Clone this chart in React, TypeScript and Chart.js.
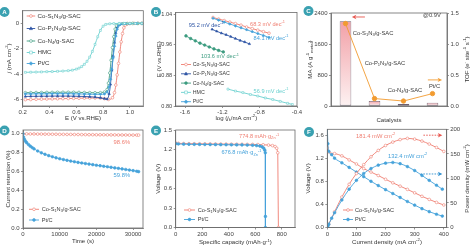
import React, { useEffect, useRef } from "react";
import { Chart, registerables } from "chart.js";

Chart.register(...registerables);

const FONT = '"Liberation Sans", Arial, Helvetica, sans-serif';

const RED = "#ef7d70";
const NAVY = "#2d54a4";
const GREEN = "#3d9c80";
const CYAN = "#69d0cf";
const SKY = "#45a2da";
const ORANGE = "#f29b30";
const BADGE = "#3aa1b1";
const AXIS = "#6a6a6a";
const INK = "#333333";

const NAME_S1N3 = "Co-S_{1}N_{3}/g-SAC";
const NAME_P1N3 = "Co-P_{1}N_{3}/g-SAC";
const NAME_N4 = "Co-N_{4}/g-SAC";
const NAME_HMC = "HMC";
const NAME_PT = "Pt/C";

// ---------- A: ORR polarization curves ----------
const lsvPotS1N3 = [0.22, 0.26, 0.3, 0.34, 0.38, 0.42, 0.46, 0.5, 0.54, 0.58, 0.62, 0.66, 0.7, 0.74, 0.78, 0.81, 0.84, 0.87, 0.885, 0.895, 0.905, 0.915, 0.925, 0.935, 0.945, 0.955, 0.965, 0.98, 1.0, 1.03, 1.06, 1.09];
const lsvCurS1N3 = [-6.0, -5.99, -5.97, -5.96, -5.95, -5.94, -5.93, -5.92, -5.91, -5.9, -5.89, -5.88, -5.87, -5.87, -5.88, -5.92, -5.98, -5.85, -5.45, -4.85, -4.05, -3.15, -2.25, -1.45, -0.8, -0.35, -0.13, -0.04, -0.01, 0, 0, 0];
const lsvPotP1N3 = [0.22, 0.26, 0.3, 0.34, 0.38, 0.42, 0.46, 0.5, 0.54, 0.58, 0.62, 0.66, 0.7, 0.74, 0.78, 0.81, 0.83, 0.845, 0.855, 0.865, 0.875, 0.885, 0.895, 0.905, 0.92, 0.94, 0.97, 1.0, 1.04, 1.09];
const lsvCurP1N3 = [-5.75, -5.74, -5.74, -5.73, -5.73, -5.72, -5.72, -5.72, -5.72, -5.73, -5.74, -5.75, -5.77, -5.8, -5.85, -5.92, -5.95, -5.55, -4.8, -3.7, -2.55, -1.5, -0.75, -0.3, -0.1, -0.04, -0.02, -0.01, 0, 0];
const lsvPotN4 = [0.22, 0.26, 0.3, 0.34, 0.38, 0.42, 0.46, 0.5, 0.54, 0.58, 0.62, 0.66, 0.7, 0.74, 0.78, 0.81, 0.83, 0.84, 0.85, 0.86, 0.87, 0.88, 0.89, 0.9, 0.92, 0.95, 0.98, 1.02, 1.06, 1.09];
const lsvCurN4 = [-5.45, -5.45, -5.44, -5.44, -5.43, -5.43, -5.42, -5.42, -5.42, -5.42, -5.43, -5.44, -5.45, -5.46, -5.45, -5.4, -5.2, -4.7, -3.9, -2.9, -1.9, -1.05, -0.45, -0.18, -0.06, -0.02, -0.01, 0, 0, 0];
const lsvPotHMC = [0.22, 0.26, 0.3, 0.34, 0.38, 0.42, 0.46, 0.5, 0.54, 0.57, 0.6, 0.62, 0.64, 0.66, 0.68, 0.7, 0.72, 0.74, 0.76, 0.78, 0.8, 0.82, 0.85, 0.88, 0.92, 0.96, 1.0, 1.04, 1.09];
const lsvCurHMC = [-3.85, -3.84, -3.83, -3.82, -3.8, -3.79, -3.77, -3.75, -3.72, -3.68, -3.6, -3.52, -3.4, -3.22, -2.98, -2.65, -2.2, -1.65, -1.05, -0.55, -0.22, -0.08, -0.03, -0.01, 0, 0, 0, 0, 0];
const lsvPotPt = [0.22, 0.26, 0.3, 0.34, 0.38, 0.42, 0.46, 0.5, 0.54, 0.58, 0.62, 0.66, 0.7, 0.74, 0.78, 0.81, 0.83, 0.845, 0.855, 0.865, 0.875, 0.885, 0.895, 0.905, 0.915, 0.93, 0.96, 1.0, 1.05, 1.09];
const lsvCurPt = [-5.55, -5.55, -5.54, -5.54, -5.54, -5.53, -5.53, -5.53, -5.53, -5.54, -5.55, -5.56, -5.57, -5.58, -5.58, -5.55, -5.4, -5.0, -4.4, -3.6, -2.7, -1.8, -1.0, -0.45, -0.18, -0.06, -0.02, -0.01, 0, 0];
const lsvTicksX = [0.2, 0.4, 0.6, 0.8, 1.0];
const lsvTicksY = [-6, -4, -2, 0];

// ---------- B: Tafel plots ----------
const tafLogS1N3 = [-1.3, -1.24, -1.18, -1.12, -1.06, -1.0, -0.94, -0.88, -0.82, -0.76, -0.7];
const tafES1N3 = [1.031, 1.027, 1.023, 1.019, 1.015, 1.011, 1.006, 1.002, 0.998, 0.994, 0.99];
const tafLogP1N3 = [-1.31, -1.26, -1.21, -1.16, -1.11, -1.06, -1.01, -0.96, -0.91];
const tafEP1N3 = [1.0, 0.995, 0.99, 0.986, 0.981, 0.976, 0.971, 0.967, 0.962];
const tafLogN4 = [-1.59, -1.54, -1.49, -1.44, -1.39, -1.34, -1.29, -1.24, -1.19];
const tafEN4 = [0.983, 0.976, 0.97, 0.964, 0.959, 0.954, 0.949, 0.945, 0.941];
const tafLogHMC = [-1.14, -1.06, -0.98, -0.9, -0.82, -0.74, -0.66, -0.58, -0.5, -0.45];
const tafEHMC = [0.844, 0.839, 0.835, 0.83, 0.826, 0.821, 0.817, 0.812, 0.807, 0.804];
const tafLogPt = [-1.3, -1.24, -1.18, -1.12, -1.06, -1.0, -0.94, -0.88, -0.82, -0.76, -0.7];
const tafEPt = [1.029, 1.024, 1.019, 1.014, 1.009, 1.004, 0.999, 0.994, 0.989, 0.984, 0.979];
const tafelSlopes = ["68.3", "95.2", "84.1", "103.6", "56.9"];
const tafTicksX = [-1.6, -1.2, -0.8, -0.4];
const tafTicksY = [0.8, 0.88, 0.96, 1.04];

// ---------- C: mass activity and TOF at 0.9 V ----------
const catalysts = [NAME_S1N3, NAME_P1N3, NAME_N4, NAME_PT];
const massActivity = [2190, 130, 50, 85];
const turnoverFreq = [1.33, 0.12, 0.08, 0.2];
const maTicks = [0, 800, 1600, 2400];
const tofTicks = [0, 0.5, 1.0, 1.5];

// ---------- D: chronoamperometric stability ----------
const chronoTimeS1N3 = [0, 1000, 2000, 3000, 4000, 5000, 6000, 7000, 8000, 9000, 10000, 11000, 12000, 13000, 14000, 15000, 16000, 17000, 18000, 19000, 20000, 21000, 22000, 23000, 24000, 25000, 26000, 27000, 28000, 29000, 30000, 31000, 31500];
const retentionS1N3 = [1.0, 0.999, 0.998, 0.998, 0.997, 0.997, 0.996, 0.996, 0.995, 0.995, 0.994, 0.994, 0.993, 0.993, 0.992, 0.992, 0.991, 0.991, 0.99, 0.99, 0.989, 0.989, 0.989, 0.988, 0.988, 0.988, 0.987, 0.987, 0.987, 0.986, 0.986, 0.986, 0.986];
const chronoTimePt = [0, 150, 400, 700, 1000, 1500, 2000, 2500, 3000, 4000, 5000, 6000, 7000, 8000, 9000, 10000, 11000, 12000, 13000, 14000, 15000, 16000, 17000, 18000, 19000, 20000, 21000, 22000, 23000, 24000, 25000, 26000, 27000, 28000, 29000, 30000, 31000, 31500];
const retentionPt = [1.0, 0.965, 0.94, 0.92, 0.905, 0.885, 0.868, 0.853, 0.84, 0.817, 0.798, 0.782, 0.768, 0.756, 0.745, 0.735, 0.726, 0.718, 0.71, 0.703, 0.696, 0.69, 0.684, 0.678, 0.672, 0.666, 0.661, 0.655, 0.65, 0.644, 0.638, 0.633, 0.627, 0.621, 0.615, 0.609, 0.602, 0.598];
const retentionFinal = ["98.6%", "59.8%"];
const chronoTicksX = [0, 10000, 20000, 30000];
const chronoTicksY = [0, 0.2, 0.4, 0.6, 0.8, 1.0];

// ---------- E: Zn-air discharge ----------
const capS1N3 = [0, 20, 60, 100, 140, 180, 220, 260, 300, 340, 380, 420, 460, 500, 540, 580, 620, 660, 700, 730, 750, 762, 770, 774.8];
const voltS1N3 = [1.3, 1.295, 1.292, 1.29, 1.289, 1.288, 1.287, 1.286, 1.285, 1.284, 1.283, 1.282, 1.281, 1.28, 1.279, 1.278, 1.276, 1.273, 1.268, 1.26, 1.245, 1.22, 1.15, 0.0];
const capPt = [0, 20, 60, 100, 140, 180, 220, 260, 300, 340, 380, 420, 460, 500, 540, 580, 610, 635, 652, 664, 672, 676, 676.8, 676.8];
const voltPt = [1.29, 1.285, 1.282, 1.28, 1.279, 1.278, 1.277, 1.276, 1.275, 1.274, 1.273, 1.272, 1.271, 1.27, 1.268, 1.265, 1.26, 1.252, 1.24, 1.22, 1.19, 1.15, 0.17, 0.0];
const capacityLabels = ["774.8", "676.8"];
const capTicksX = [0, 200, 400, 600, 800];
const capTicksY = [0, 0.3, 0.6, 0.9, 1.2, 1.5];

// ---------- F: polarization and power density ----------
const currS1N3 = [0, 5, 25, 50, 75, 100, 125, 150, 175, 200, 225, 250, 275, 300, 325, 350, 375, 400];
const polVoltS1N3 = [1.38, 1.31, 1.28, 1.24, 1.17, 1.1, 1.02, 0.96, 0.9, 0.835, 0.773, 0.716, 0.66, 0.6, 0.54, 0.486, 0.435, 0.39];
const powerS1N3 = [0, 6.5, 32, 62, 88, 110, 128, 144, 157, 167, 174, 179, 181.4, 180, 176, 170, 163, 155];
const currPt = [0, 2, 5, 15, 25, 50, 75, 100, 125, 150, 175, 200, 225, 250, 275, 300, 325, 350, 375, 395];
const polVoltPt = [1.75, 1.45, 1.32, 1.26, 1.2, 1.12, 1.04, 0.96, 0.88, 0.8, 0.726, 0.655, 0.588, 0.52, 0.45, 0.387, 0.326, 0.274, 0.229, 0.197];
const powerPt = [0, 2.9, 6.6, 18.9, 30, 56, 78, 96, 110, 120, 127, 131, 132.4, 130, 124, 116, 106, 96, 86, 78];
const peakPower = ["181.4", "132.4"];
const polTicksX = [0, 100, 200, 300, 400];
const polTicksY = [0, 0.4, 0.8, 1.2, 1.6];
const powTicks = [0, 50, 100, 150, 200];

// ---------- drawing helpers ----------
type Cell = { left: number; top: number; w: number; h: number };
type Area = { l: number; t: number; r: number; b: number };
type MarkerStyle = "circle" | "triangle" | "rect" | "rectRot";
type Marker = { style: MarkerStyle; filled: boolean };
type LegendItem = { label: string; color: string; marker: Marker };
type Note = { x: number; y: number; axis?: string; text: string; color: string; size: number };
type Arrow = { x1: number; x2: number; y: number; axis?: string; color: string; dashed?: boolean };
type Decor = {
  cell: Cell;
  badge: { x: number; y: number; letter: string };
  xTitle: { text: string; y: number };
  yTitle: { text: string; x: number };
  y1Title?: { text: string; x: number };
  legend?: { x0: number; len: number; tx: number; ys: number[]; size: number; items: LegendItem[] };
  notes?: Note[];
  arrows?: Arrow[];
};

type Seg = { t: string; m: "n" | "sub" | "sup" | "it" };

function parseRich(s: string): Seg[] {
  const out: Seg[] = [];
  let buf = "";
  let i = 0;
  while (i < s.length) {
    const c = s[i];
    if ((c === "_" || c === "^" || c === "~") && s[i + 1] === "{") {
      if (buf) { out.push({ t: buf, m: "n" }); buf = ""; }
      const end = s.indexOf("}", i + 2);
      out.push({ t: s.slice(i + 2, end), m: c === "_" ? "sub" : c === "^" ? "sup" : "it" });
      i = end + 1;
    } else {
      buf += c;
      i++;
    }
  }
  if (buf) out.push({ t: buf, m: "n" });
  return out;
}

function drawRich(c: CanvasRenderingContext2D, s: string, x: number, y: number, size: number, color: string, align: "left" | "center" | "right", bold = false) {
  const segs = parseRich(s);
  const fontFor = (m: Seg["m"]) => {
    const sz = m === "sub" || m === "sup" ? size * 0.7 : size;
    return `${m === "it" ? "italic " : ""}${bold ? "bold " : ""}${sz}px ${FONT}`;
  };
  let total = 0;
  const widths = segs.map((sg) => {
    c.font = fontFor(sg.m);
    const w = c.measureText(sg.t).width;
    total += w;
    return w;
  });
  let cx = align === "left" ? x : align === "center" ? x - total / 2 : x - total;
  c.save();
  c.fillStyle = color;
  c.textAlign = "left";
  c.textBaseline = "middle";
  segs.forEach((sg, k) => {
    c.font = fontFor(sg.m);
    const dy = sg.m === "sub" ? size * 0.28 : sg.m === "sup" ? -size * 0.34 : 0;
    c.fillText(sg.t, cx, y + dy);
    cx += widths[k];
  });
  c.restore();
}

function drawMarker(c: CanvasRenderingContext2D, m: Marker, x: number, y: number, r: number, color: string) {
  c.save();
  c.beginPath();
  if (m.style === "circle") c.arc(x, y, r, 0, Math.PI * 2);
  else if (m.style === "triangle") {
    c.moveTo(x, y - r * 1.2);
    c.lineTo(x + r * 1.1, y + r * 0.8);
    c.lineTo(x - r * 1.1, y + r * 0.8);
    c.closePath();
  } else if (m.style === "rect") c.rect(x - r, y - r, 2 * r, 2 * r);
  else {
    c.moveTo(x, y - r * 1.3);
    c.lineTo(x + r * 1.3, y);
    c.lineTo(x, y + r * 1.3);
    c.lineTo(x - r * 1.3, y);
    c.closePath();
  }
  c.fillStyle = m.filled ? color : "#ffffff";
  c.fill();
  c.strokeStyle = color;
  c.lineWidth = 0.6;
  c.stroke();
  c.restore();
}

const TITLE_SIZE = 6.1;
const TICK_SIZE = 6;

function makeDecor(d: Decor) {
  return {
    id: "decor" + d.badge.letter,
    afterDraw(chart: any) {
      const c = chart.ctx as CanvasRenderingContext2D;
      const a = chart.chartArea;
      const ox = d.cell.left;
      const oy = d.cell.top;
      // plot frame
      c.save();
      c.strokeStyle = AXIS;
      c.lineWidth = 0.8;
      c.strokeRect(a.left, a.top, a.right - a.left, a.bottom - a.top);
      c.restore();
      // axis titles
      drawRich(c, d.xTitle.text, (a.left + a.right) / 2, d.xTitle.y - oy, TITLE_SIZE, INK, "center");
      const rot = (t: string, x: number) => {
        c.save();
        c.translate(x - ox, (a.top + a.bottom) / 2);
        c.rotate(-Math.PI / 2);
        drawRich(c, t, 0, 0, TITLE_SIZE, INK, "center");
        c.restore();
      };
      rot(d.yTitle.text, d.yTitle.x);
      if (d.y1Title) rot(d.y1Title.text, d.y1Title.x);
      // legend
      if (d.legend) {
        const L = d.legend;
        L.items.forEach((it, i) => {
          const y = L.ys[i] - oy;
          c.save();
          c.strokeStyle = it.color;
          c.lineWidth = 0.9;
          c.beginPath();
          c.moveTo(L.x0 - ox, y);
          c.lineTo(L.x0 + L.len - ox, y);
          c.stroke();
          c.restore();
          drawMarker(c, it.marker, L.x0 + L.len / 2 - ox, y, 1.4, it.color);
          drawRich(c, it.label, L.tx - ox, y, L.size, "#3a3a3a", "left");
        });
      }
      // arrows
      (d.arrows || []).forEach((ar) => {
        const sx = chart.scales.x;
        const sy = chart.scales[ar.axis || "y"];
        const x1 = sx.getPixelForValue(ar.x1);
        const x2 = sx.getPixelForValue(ar.x2);
        const y = sy.getPixelForValue(ar.y);
        const dir = Math.sign(x2 - x1) || 1;
        c.save();
        c.strokeStyle = ar.color;
        c.fillStyle = ar.color;
        c.lineWidth = 0.9;
        if (ar.dashed) c.setLineDash([1.6, 1.2]);
        c.beginPath();
        c.moveTo(x1, y);
        c.lineTo(x2 - dir * 3, y);
        c.stroke();
        c.setLineDash([]);
        c.beginPath();
        c.moveTo(x2, y);
        c.lineTo(x2 - dir * 4.5, y - 2.2);
        c.lineTo(x2 - dir * 3.2, y);
        c.lineTo(x2 - dir * 4.5, y + 2.2);
        c.closePath();
        c.fill();
        c.restore();
      });
      // value notes
      (d.notes || []).forEach((n) => {
        const px = chart.scales.x.getPixelForValue(n.x);
        const py = chart.scales[n.axis || "y"].getPixelForValue(n.y);
        drawRich(c, n.text, px, py, n.size, n.color, "center");
      });
      // panel badge
      c.save();
      c.fillStyle = BADGE;
      c.beginPath();
      c.arc(d.badge.x - ox, d.badge.y - oy, 5, 0, Math.PI * 2);
      c.fill();
      c.restore();
      drawRich(c, d.badge.letter, d.badge.x - ox, d.badge.y - oy + 0.3, 6.2, "#ffffff", "center", true);
    },
  };
}

function frameOf(cell: Cell, area: Area, hasRight: boolean) {
  return {
    padding: { top: area.t - cell.top, left: 0, right: hasRight ? 0 : cell.left + cell.w - area.r, bottom: 0 },
    leftW: area.l - cell.left,
    bottomH: cell.top + cell.h - area.b,
    rightW: cell.left + cell.w - area.r,
  };
}

function axis(kind: "x" | "y", min: number, max: number, ticks: number[], dec: number, size: number, position?: string, fontSize = TICK_SIZE) {
  return {
    type: "linear",
    position: position || (kind === "x" ? "bottom" : "left"),
    min,
    max,
    afterBuildTicks: (s: any) => {
      s.ticks = ticks.map((v) => ({ value: v }));
    },
    afterFit: (s: any) => {
      if (kind === "x") s.height = size;
      else s.width = size;
    },
    ticks: {
      font: { size: fontSize, family: FONT },
      color: "#444444",
      padding: kind === "x" ? 0.8 : 1.5,
      maxRotation: 0,
      autoSkip: false,
      callback: (v: any) => Number(v).toFixed(dec),
    },
    grid: { display: true, drawOnChartArea: false, drawTicks: true, tickLength: 2, color: AXIS, lineWidth: 0.7 },
    border: { display: true, color: AXIS, width: 0.8 },
    title: { display: false },
  };
}

function series(xs: number[], ys: number[], color: string, m: Marker, extra: any = {}) {
  return {
    data: xs.map((x, i) => ({ x, y: ys[i] })),
    borderColor: color,
    backgroundColor: color,
    borderWidth: 0.9,
    pointRadius: 1.35,
    pointStyle: m.style,
    pointBackgroundColor: m.filled ? color : "#ffffff",
    pointBorderColor: color,
    pointBorderWidth: 0.6,
    tension: 0,
    fill: false,
    ...extra,
  };
}

const baseOptions = (padding: any) => ({
  responsive: false,
  animation: false as const,
  events: [] as any[],
  layout: { padding },
  plugins: { legend: { display: false }, tooltip: { enabled: false }, title: { display: false } },
});

const M_OPEN_CIRCLE: Marker = { style: "circle", filled: false };
const M_FILLED_CIRCLE: Marker = { style: "circle", filled: true };
const M_TRIANGLE: Marker = { style: "triangle", filled: true };
const M_DIAMOND: Marker = { style: "rectRot", filled: true };
const M_SQUARE: Marker = { style: "rect", filled: false };

const FIVE_LEGEND: LegendItem[] = [
  { label: NAME_S1N3, color: RED, marker: M_OPEN_CIRCLE },
  { label: NAME_P1N3, color: NAVY, marker: M_TRIANGLE },
  { label: NAME_N4, color: GREEN, marker: M_OPEN_CIRCLE },
  { label: NAME_HMC, color: CYAN, marker: M_SQUARE },
  { label: NAME_PT, color: SKY, marker: M_DIAMOND },
];
const TWO_LEGEND: LegendItem[] = [
  { label: NAME_S1N3, color: RED, marker: M_OPEN_CIRCLE },
  { label: NAME_PT, color: SKY, marker: M_FILLED_CIRCLE },
];

// ---------- panel layouts ----------
const CELL_A: Cell = { left: 0, top: 0, w: 152, h: 124 };
const CELL_B: Cell = { left: 148, top: 0, w: 156, h: 124 };
const CELL_C: Cell = { left: 302, top: 0, w: 172, h: 124 };
const CELL_D: Cell = { left: 0, top: 122, w: 152, h: 128 };
const CELL_E: Cell = { left: 148, top: 122, w: 156, h: 128 };
const CELL_F: Cell = { left: 302, top: 122, w: 172, h: 128 };

function configA() {
  const area: Area = { l: 22.7, t: 10.7, r: 143.3, b: 106 };
  const f = frameOf(CELL_A, area, false);
  const mono = { cubicInterpolationMode: "monotone" };
  return {
    type: "line",
    data: {
      datasets: [
        series(lsvPotHMC, lsvCurHMC, CYAN, M_SQUARE, mono),
        series(lsvPotPt, lsvCurPt, SKY, M_DIAMOND, mono),
        series(lsvPotN4, lsvCurN4, GREEN, M_OPEN_CIRCLE, mono),
        series(lsvPotP1N3, lsvCurP1N3, NAVY, M_TRIANGLE, mono),
        series(lsvPotS1N3, lsvCurS1N3, RED, M_OPEN_CIRCLE, mono),
      ],
    },
    options: {
      ...baseOptions(f.padding),
      scales: {
        x: axis("x", 0.2, 1.1, lsvTicksX, 1, f.bottomH),
        y: axis("y", -6.5, 1.0, lsvTicksY, 0, f.leftW),
      },
    },
    plugins: [
      makeDecor({
        cell: CELL_A,
        badge: { x: 4.5, y: 12, letter: "A" },
        xTitle: { text: "E (V vs.RHE)", y: 118.3 },
        yTitle: { text: "~{j} (mA cm^{-2})", x: 9 },
        legend: { x0: 26.7, len: 8.5, tx: 37.5, ys: [16, 28.5, 41, 52.5, 63.5], size: 6.2, items: FIVE_LEGEND },
      }),
    ],
  };
}

function configB() {
  const area: Area = { l: 175.7, t: 12.5, r: 297, b: 106 };
  const f = frameOf(CELL_B, area, false);
  const sz = 5.6;
  return {
    type: "line",
    data: {
      datasets: [
        series(tafLogHMC, tafEHMC, CYAN, M_SQUARE),
        series(tafLogN4, tafEN4, GREEN, M_FILLED_CIRCLE),
        series(tafLogP1N3, tafEP1N3, NAVY, M_TRIANGLE),
        series(tafLogPt, tafEPt, SKY, M_DIAMOND),
        series(tafLogS1N3, tafES1N3, RED, M_OPEN_CIRCLE),
      ],
    },
    options: {
      ...baseOptions(f.padding),
      scales: {
        x: axis("x", -1.7, -0.4, tafTicksX, 1, f.bottomH),
        y: axis("y", 0.8, 1.044, tafTicksY, 2, f.leftW, undefined, 5.6),
      },
    },
    plugins: [
      makeDecor({
        cell: CELL_B,
        badge: { x: 156, y: 12, letter: "B" },
        xTitle: { text: "log (~{j}_{k}/mA cm^{-2})", y: 118.3 },
        yTitle: { text: "E (V vs.RHE)", x: 159.5 },
        legend: {
          x0: 181, len: 10, tx: 192.7, ys: [64.5, 73.8, 83.1, 92.4, 101.7], size: 5.3,
          items: [
            { label: NAME_S1N3, color: RED, marker: M_OPEN_CIRCLE },
            { label: NAME_P1N3, color: NAVY, marker: M_TRIANGLE },
            { label: NAME_N4, color: GREEN, marker: M_FILLED_CIRCLE },
            { label: NAME_HMC, color: CYAN, marker: M_SQUARE },
            { label: NAME_PT, color: SKY, marker: M_DIAMOND },
          ],
        },
        notes: [
          { x: -0.716, y: 1.014, text: `${tafelSlopes[0]} mV dec^{-1}`, color: RED, size: sz },
          { x: -1.372, y: 1.011, text: `${tafelSlopes[1]} mV dec^{-1}`, color: NAVY, size: sz },
          { x: -0.678, y: 0.977, text: `${tafelSlopes[2]} mV dec^{-1}`, color: SKY, size: sz },
          { x: -1.226, y: 0.928, text: `${tafelSlopes[3]} mV dec^{-1}`, color: GREEN, size: sz },
          { x: -0.678, y: 0.839, text: `${tafelSlopes[4]} mV dec^{-1}`, color: CYAN, size: sz },
        ],
      }),
    ],
  };
}

function configC() {
  const area: Area = { l: 331, t: 13, r: 447, b: 106 };
  const f = frameOf(CELL_C, area, true);
  const yLeft = axis("y", 0, 2400, maTicks, 0, f.leftW);
  const yRight = axis("y", 0, 1.5, tofTicks, 1, f.rightW, "right");
  const sz = 5.8;
  return {
    type: "bar",
    data: {
      labels: catalysts,
      datasets: [
        {
          type: "line",
          data: turnoverFreq,
          yAxisID: "y1",
          borderColor: ORANGE,
          borderWidth: 0.9,
          pointRadius: 2.2,
          pointStyle: "circle",
          pointBackgroundColor: ORANGE,
          pointBorderColor: ORANGE,
          order: 1,
        },
        {
          type: "bar",
          data: massActivity,
          yAxisID: "y",
          barPercentage: 0.4,
          categoryPercentage: 1,
          borderColor: "#6d6070",
          borderWidth: 0.8,
          borderSkipped: false,
          order: 2,
          backgroundColor: (ctx: any) => {
            const chart = ctx.chart;
            if (!chart.chartArea) return "#f6c8cb";
            const ys = chart.scales.y;
            const top = ys.getPixelForValue(ctx.raw);
            const bot = ys.getPixelForValue(0);
            if (bot - top < 1) return "#f6c8cb";
            const g = chart.ctx.createLinearGradient(0, top, 0, bot);
            g.addColorStop(0, "#f2a0a7");
            g.addColorStop(1, "#fdf2f2");
            return g;
          },
        },
      ],
    },
    options: {
      ...baseOptions(f.padding),
      scales: {
        x: {
          type: "category",
          offset: true,
          afterFit: (s: any) => { s.height = f.bottomH; },
          ticks: { display: false },
          grid: { display: false },
          border: { display: true, color: AXIS, width: 0.8 },
        },
        y: yLeft,
        y1: yRight,
      },
    },
    plugins: [
      makeDecor({
        cell: CELL_C,
        badge: { x: 308.5, y: 11, letter: "C" },
        xTitle: { text: "Catalysts", y: 120 },
        yTitle: { text: "MA (A g^{-1}_{metal})", x: 310 },
        y1Title: { text: "TOF (e^{-} site^{-1} s^{-1})", x: 467 },
        notes: [
          { x: 2.98, y: 2331, text: "@0.9V", color: "#444444", size: sz },
          { x: 0.95, y: 1883, text: NAME_S1N3, color: "#3a3a3a", size: sz },
          { x: 1.36, y: 1106, text: NAME_P1N3, color: "#3a3a3a", size: sz },
          { x: 2.05, y: 396, text: NAME_N4, color: "#3a3a3a", size: sz },
          { x: 3.07, y: 518, text: NAME_PT, color: "#3a3a3a", size: sz },
        ],
        arrows: [
          { x1: 0.67, x2: 0.22, y: 2297, color: "#e8574f" },
          { x1: 2.84, x2: 3.33, y: 673, color: ORANGE },
        ],
      }),
    ],
  };
}

function configD() {
  const area: Area = { l: 23, t: 130, r: 143, b: 228 };
  const f = frameOf(CELL_D, area, false);
  return {
    type: "line",
    data: {
      datasets: [
        series(chronoTimePt, retentionPt, SKY, M_FILLED_CIRCLE, { cubicInterpolationMode: "monotone" }),
        series(chronoTimeS1N3, retentionS1N3, RED, M_OPEN_CIRCLE),
      ],
    },
    options: {
      ...baseOptions(f.padding),
      scales: {
        x: axis("x", 0, 32700, chronoTicksX, 0, f.bottomH),
        y: axis("y", 0, 1.04, chronoTicksY, 1, f.leftW),
      },
    },
    plugins: [
      makeDecor({
        cell: CELL_D,
        badge: { x: 4.5, y: 130.5, letter: "D" },
        xTitle: { text: "Time (s)", y: 241.7 },
        yTitle: { text: "Current retention (%)", x: 8 },
        legend: { x0: 29, len: 10, tx: 41.7, ys: [209.3, 220], size: 5.6, items: TWO_LEGEND },
        notes: [
          { x: 26930, y: 0.908, text: retentionFinal[0], color: RED, size: 5.8 },
          { x: 26930, y: 0.555, text: retentionFinal[1], color: SKY, size: 5.8 },
        ],
      }),
    ],
  };
}

function configE() {
  const area: Area = { l: 175.7, t: 130, r: 295, b: 227.5 };
  const f = frameOf(CELL_E, area, false);
  return {
    type: "line",
    data: {
      datasets: [
        series(capPt, voltPt, SKY, M_FILLED_CIRCLE),
        series(capS1N3, voltS1N3, RED, M_OPEN_CIRCLE),
      ],
    },
    options: {
      ...baseOptions(f.padding),
      scales: {
        x: axis("x", 0, 900, capTicksX, 0, f.bottomH),
        y: axis("y", 0, 1.5, capTicksY, 1, f.leftW),
      },
    },
    plugins: [
      makeDecor({
        cell: CELL_E,
        badge: { x: 156, y: 130.5, letter: "E" },
        xTitle: { text: "Specific capacity (mAh·g^{-1})", y: 242.5 },
        yTitle: { text: "Voltage (V)", x: 158.5 },
        legend: { x0: 184, len: 11, tx: 197.7, ys: [210, 219.5], size: 5.6, items: TWO_LEGEND },
        notes: [
          { x: 629, y: 1.396, text: `${capacityLabels[0]} mAh·g_{Zn}^{-1}`, color: RED, size: 5.6 },
          { x: 496, y: 1.147, text: `${capacityLabels[1]} mAh·g_{Zn}^{-1}`, color: SKY, size: 5.6 },
        ],
      }),
    ],
  };
}

function configF() {
  const area: Area = { l: 327.3, t: 129.3, r: 446.7, b: 227.5 };
  const f = frameOf(CELL_F, area, true);
  const mono = { cubicInterpolationMode: "monotone" };
  return {
    type: "line",
    data: {
      datasets: [
        series(currPt, powerPt, SKY, M_FILLED_CIRCLE, { ...mono, yAxisID: "y1" }),
        series(currS1N3, powerS1N3, RED, M_OPEN_CIRCLE, { ...mono, yAxisID: "y1" }),
        series(currPt, polVoltPt, SKY, M_FILLED_CIRCLE, { ...mono, yAxisID: "y" }),
        series(currS1N3, polVoltS1N3, RED, M_OPEN_CIRCLE, { ...mono, yAxisID: "y" }),
      ],
    },
    options: {
      ...baseOptions(f.padding),
      scales: {
        x: axis("x", 0, 410, polTicksX, 0, f.bottomH),
        y: axis("y", 0, 1.7, polTicksY, 1, f.leftW),
        y1: axis("y", 0, 200, powTicks, 0, f.rightW, "right"),
      },
    },
    plugins: [
      makeDecor({
        cell: CELL_F,
        badge: { x: 309, y: 132, letter: "F" },
        xTitle: { text: "Current density (mA cm^{-2})", y: 242.3 },
        yTitle: { text: "Voltage (V)", x: 308.5 },
        y1Title: { text: "Power density (mW cm^{-2})", x: 467 },
        legend: { x0: 343, len: 10, tx: 355, ys: [210, 219.5], size: 5.6, items: TWO_LEGEND },
        notes: [
          { x: 166, y: 186, axis: "y1", text: `${peakPower[0]} mW cm^{-2}`, color: RED, size: 5.8 },
          { x: 276, y: 145.5, axis: "y1", text: `${peakPower[1]} mW cm^{-2}`, color: SKY, size: 5.8 },
        ],
        arrows: [
          { x1: 330, x2: 395, y: 188, axis: "y1", color: "#e8574f", dashed: true },
          { x1: 320, x2: 395, y: 109, axis: "y1", color: "#2f8fcf", dashed: true },
        ],
      }),
    ],
  };
}

function Panel({ cell, make }: { cell: Cell; make: () => any }) {
  const ref = useRef<HTMLCanvasElement | null>(null);
  useEffect(() => {
    if (!ref.current) return;
    const chart = new Chart(ref.current, make());
    return () => chart.destroy();
  }, [make]);
  return (
    <canvas
      ref={ref}
      width={cell.w}
      height={cell.h}
      style={{ position: "absolute", left: cell.left, top: cell.top, width: cell.w, height: cell.h }}
    />
  );
}

export default function App() {
  return (
    <div style={{ position: "fixed", left: 0, top: 0, width: 474, height: 250, background: "#ffffff", overflow: "hidden" }}>
      <Panel cell={CELL_A} make={configA} />
      <Panel cell={CELL_B} make={configB} />
      <Panel cell={CELL_C} make={configC} />
      <Panel cell={CELL_D} make={configD} />
      <Panel cell={CELL_E} make={configE} />
      <Panel cell={CELL_F} make={configF} />
    </div>
  );
}
